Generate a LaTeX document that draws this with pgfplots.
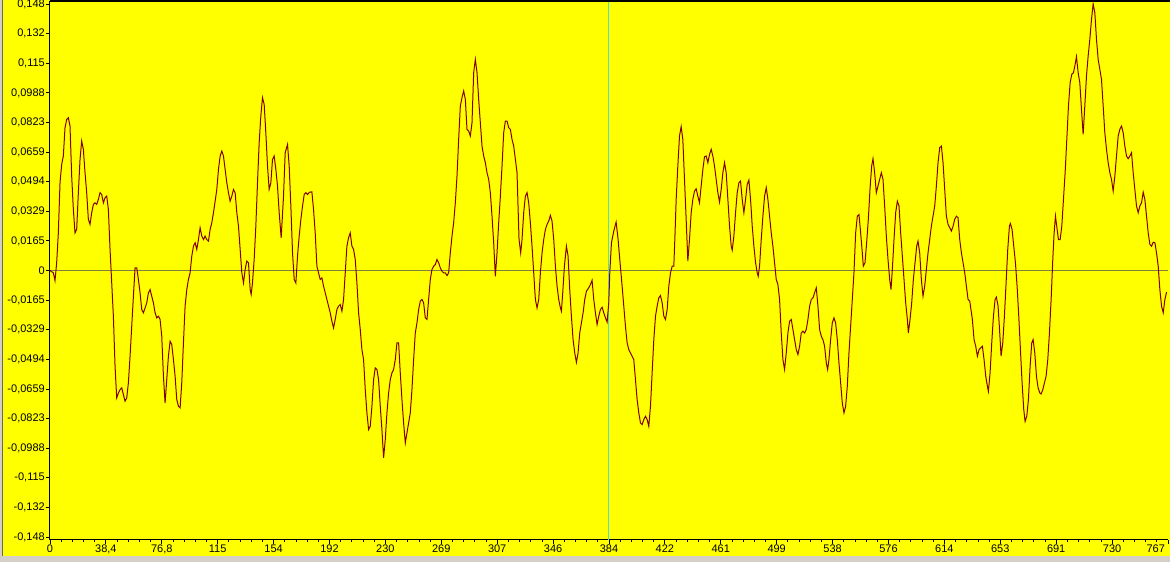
\documentclass[border=0pt]{standalone}
\usepackage{fontspec}
\setmainfont{Liberation Sans}
\usepackage{pgfplots}
\pgfplotsset{compat=1.18}
\definecolor{bgyellow}{RGB}{255,255,0}
\definecolor{curve}{RGB}{128,0,0}
\definecolor{zeroline}{RGB}{128,128,64}
\definecolor{cursor}{RGB}{80,220,210}
\definecolor{framegray}{RGB}{212,208,200}
\begin{document}
\begin{tikzpicture}[x=1pt,y=1pt]
\useasboundingbox (0,0) rectangle (1170,562);
\fill[bgyellow] (0,0) rectangle (1170,562);
\fill[framegray] (0,0) rectangle (2,562);
\fill[framegray] (0,0) rectangle (1170,6);
\draw[black!60, line width=1pt] (2.5,6) -- (2.5,562);
\begin{axis}[
  at={(50pt,22pt)}, anchor=south west,
  scale only axis, width=1118pt, height=539pt,
  xmin=0, xmax=768, ymin=-0.1497, ymax=0.1497,
  axis x line*=bottom, axis y line*=left,
  axis line style={black, line width=1pt, -},
  xtick={0,38.4,76.8,115.2,153.6,192,230.4,268.8,307.2,345.6,384,422.4,460.8,499.2,537.6,576,614.4,652.8,691.2,729.6,768},
  xticklabels={0,{38,4},{76,8},115,154,192,230,269,307,346,384,422,461,499,538,576,614,653,691,730,{\makebox[0pt][r]{767\hspace{3pt}}}},
  ytick={-0.148,-0.131556,-0.115111,-0.098667,-0.082222,-0.065778,-0.049333,-0.032889,-0.016444,0,0.016444,0.032889,0.049333,0.065778,0.082222,0.098667,0.115111,0.131556,0.148},
  yticklabels={{-0,148},{-0,132},{-0,115},{-0,0988},{-0,0823},{-0,0659},{-0,0494},{-0,0329},{-0,0165},0,{0,0165},{0,0329},{0,0494},{0,0659},{0,0823},{0,0988},{0,115},{0,132},{0,148}},
  tick align=outside,
  major tick length=4pt, minor tick length=2pt,
  minor x tick num=4, minor y tick num=7,
  tick style={black, line width=0.8pt},
  ticklabel style={font=\fontsize{11}{12}\selectfont, text=black},
  xticklabel style={inner sep=1pt},
  yticklabel style={inner sep=1pt},
  clip=false,
]
\draw[zeroline, line width=1pt] (axis cs:0,0) -- (axis cs:768,0);
\draw[cursor, line width=1pt] (axis cs:384,-0.1497) -- (axis cs:384,0.1497);
\draw[black, line width=1.2pt] (rel axis cs:0,1) -- (rel axis cs:1.002,1);
\addplot[curve, line width=1pt, no marks] table {
x y
0 0
2.29 -0.0013
3.44 -0.0056
4.58 0.0043
5.73 0.0209
6.88 0.0487
8.02 0.0589
9.17 0.0636
10.31 0.0793
11.46 0.0839
12.60 0.0849
13.75 0.0802
14.90 0.0524
16.04 0.0339
17.19 0.0209
18.33 0.0228
19.48 0.0432
20.63 0.0617
21.77 0.0719
22.92 0.0673
24.06 0.0543
25.21 0.0432
26.35 0.0284
27.50 0.0256
28.65 0.0321
29.79 0.0367
30.94 0.0376
32.08 0.0367
33.23 0.0395
34.38 0.0432
35.52 0.0422
36.67 0.0376
37.81 0.0404
38.96 0.0413
40.10 0.0339
41.25 0.0117
42.40 -0.0069
43.54 -0.0254
44.69 -0.0532
45.83 -0.0708
46.98 -0.0680
48.13 -0.0662
49.27 -0.0652
50.42 -0.0689
51.56 -0.0726
52.71 -0.0708
53.85 -0.0624
55.00 -0.0476
56.15 -0.0309
57.29 -0.0143
58.44 0.0015
59.58 0.0015
60.73 -0.0050
61.88 -0.0124
63.02 -0.0217
64.17 -0.0235
65.31 -0.0208
66.46 -0.0180
67.60 -0.0124
68.75 -0.0106
69.90 -0.0143
71.04 -0.0180
72.19 -0.0235
73.33 -0.0263
74.48 -0.0254
75.63 -0.0272
76.77 -0.0365
77.92 -0.0587
79.06 -0.0736
80.21 -0.0606
81.35 -0.0476
82.50 -0.0393
83.65 -0.0411
84.79 -0.0495
85.94 -0.0587
87.08 -0.0717
88.23 -0.0754
89.38 -0.0763
90.52 -0.0624
91.67 -0.0402
92.81 -0.0198
93.96 -0.0106
95.10 -0.0050
96.25 -0.0013
97.40 0.0080
98.54 0.0135
99.69 0.0154
100.83 0.0117
101.98 0.0172
103.13 0.0237
104.27 0.0191
105.42 0.0172
106.56 0.0191
107.71 0.0172
108.85 0.0163
110.00 0.0228
111.15 0.0265
112.29 0.0321
113.44 0.0385
114.58 0.0450
115.73 0.0561
116.88 0.0636
118.02 0.0663
119.17 0.0636
120.31 0.0561
121.46 0.0487
122.60 0.0432
123.75 0.0385
124.90 0.0413
126.04 0.0450
127.19 0.0432
128.33 0.0321
129.48 0.0246
130.63 0.0117
131.77 -0.0013
132.92 -0.0069
134.06 0.0006
135.21 0.0052
136.35 0.0043
137.50 -0.0106
138.19 -0.0133
139.10 -0.0069
140.25 0.0061
141.40 0.0246
142.54 0.0487
143.69 0.0710
144.83 0.0858
145.98 0.0960
147.13 0.0923
148.27 0.0765
149.42 0.0580
150.56 0.0450
151.71 0.0487
152.85 0.0617
154.00 0.0636
155.15 0.0561
156.29 0.0469
157.44 0.0321
158.81 0.0182
160.42 0.0413
161.56 0.0654
163.17 0.0700
164.32 0.0580
165.46 0.0358
166.61 0.0098
167.75 -0.0050
168.90 -0.0069
170.04 0.0080
171.19 0.0191
172.34 0.0284
173.48 0.0358
174.63 0.0422
175.77 0.0432
176.92 0.0422
178.29 0.0435
179.90 0.0437
181.04 0.0339
182.19 0.0209
183.34 0.0024
184.48 -0.0013
185.63 -0.0050
186.77 -0.0041
187.92 -0.0087
189.07 -0.0124
190.21 -0.0161
191.36 -0.0198
192.50 -0.0235
193.65 -0.0282
194.79 -0.0319
195.94 -0.0272
197.09 -0.0217
198.23 -0.0198
199.38 -0.0189
200.52 -0.0226
201.67 -0.0161
202.82 -0.0013
203.96 0.0135
205.11 0.0182
206.25 0.0209
207.40 0.0135
208.54 0.0117
209.69 0.0061
210.84 -0.0069
211.98 -0.0235
213.13 -0.0328
214.27 -0.0439
215.42 -0.0495
216.57 -0.0662
217.71 -0.0791
218.86 -0.0884
220.00 -0.0865
221.15 -0.0754
222.29 -0.0606
223.44 -0.0541
224.59 -0.0550
225.73 -0.0606
226.88 -0.0754
228.02 -0.0884
229.17 -0.1041
230.32 -0.0939
231.46 -0.0791
232.61 -0.0680
233.75 -0.0606
234.90 -0.0569
236.04 -0.0550
237.19 -0.0495
238.34 -0.0402
239.48 -0.0402
240.63 -0.0569
241.77 -0.0717
242.92 -0.0847
244.07 -0.0958
245.21 -0.0902
246.36 -0.0847
247.50 -0.0791
248.65 -0.0662
249.79 -0.0495
250.94 -0.0347
252.09 -0.0291
253.23 -0.0217
254.38 -0.0170
255.52 -0.0161
256.67 -0.0180
257.82 -0.0263
258.96 -0.0272
260.11 -0.0161
261.25 -0.0050
262.40 0.0006
263.54 0.0024
264.69 0.0033
265.84 0.0061
266.98 0.0043
268.13 0.0015
269.27 -0.0004
270.42 -0.0013
271.57 -0.0013
272.71 -0.0028
273.86 -0.0013
275.00 0.0098
276.15 0.0191
277.29 0.0265
278.44 0.0376
279.59 0.0524
280.73 0.0728
281.88 0.0914
283.02 0.0960
284.17 0.0997
285.32 0.0951
286.46 0.0784
287.61 0.0775
288.75 0.0747
289.90 0.0821
291.05 0.1099
292.19 0.1173
293.34 0.1099
294.48 0.0951
295.63 0.0821
296.77 0.0691
297.92 0.0636
299.07 0.0599
300.21 0.0543
301.36 0.0506
302.50 0.0432
303.65 0.0302
304.79 0.0154
305.94 -0.0032
307.09 0.0098
308.23 0.0265
309.38 0.0413
310.52 0.0580
311.67 0.0765
312.82 0.0830
313.96 0.0830
315.11 0.0793
316.25 0.0784
317.39 0.0728
318.54 0.0691
319.69 0.0617
320.83 0.0543
321.52 0.0358
322.21 0.0172
323.35 0.0098
324.27 0.0172
325.41 0.0321
326.56 0.0413
327.71 0.0432
328.85 0.0376
330.00 0.0265
331.14 0.0135
332.29 -0.0013
333.44 -0.0161
334.58 -0.0208
335.73 -0.0161
336.87 -0.0013
338.02 0.0098
339.16 0.0172
340.31 0.0228
341.46 0.0256
342.60 0.0274
343.75 0.0306
344.89 0.0274
346.04 0.0172
347.19 0.0024
348.33 -0.0087
349.48 -0.0161
350.62 -0.0208
351.31 -0.0226
352.23 -0.0124
353.37 0.0024
354.75 0.0135
355.89 0.0080
357.04 -0.0106
358.19 -0.0254
359.33 -0.0384
360.48 -0.0458
361.62 -0.0510
362.77 -0.0458
363.91 -0.0347
365.06 -0.0291
366.21 -0.0235
367.35 -0.0161
368.50 -0.0115
370.10 -0.0096
371.25 -0.0078
372.39 -0.0054
373.54 -0.0161
374.69 -0.0235
375.83 -0.0300
376.98 -0.0254
378.12 -0.0217
379.27 -0.0204
380.42 -0.0235
381.56 -0.0263
382.71 -0.0287
383.85 -0.0180
384.54 -0.0013
385.69 0.0154
387.29 0.0219
388.90 0.0269
390.27 0.0172
391.42 0.0061
393.02 -0.0087
394.17 -0.0198
395.31 -0.0309
396.46 -0.0402
397.60 -0.0439
398.75 -0.0458
399.90 -0.0476
401.04 -0.0495
402.19 -0.0606
403.33 -0.0717
404.48 -0.0791
405.62 -0.0847
406.77 -0.0856
407.92 -0.0828
409.06 -0.0810
410.21 -0.0828
411.35 -0.0865
412.50 -0.0754
413.64 -0.0569
414.79 -0.0384
415.94 -0.0254
417.08 -0.0198
418.23 -0.0152
419.37 -0.0139
420.52 -0.0180
421.67 -0.0254
422.81 -0.0272
423.96 -0.0217
425.10 -0.0087
426.25 -0.0013
427.40 0.0024
428.54 0.0024
429.23 0.0172
430.15 0.0395
431.29 0.0580
432.44 0.0747
433.58 0.0799
434.73 0.0728
435.87 0.0506
437.02 0.0284
438.17 0.0052
439.31 0.0172
440.46 0.0321
441.60 0.0395
442.75 0.0441
443.89 0.0454
445.04 0.0413
446.19 0.0376
447.33 0.0469
448.48 0.0561
449.62 0.0632
450.77 0.0636
451.92 0.0599
453.06 0.0645
454.21 0.0673
455.35 0.0636
456.50 0.0580
457.64 0.0506
458.79 0.0432
459.94 0.0380
461.08 0.0450
462.23 0.0543
463.37 0.0599
464.52 0.0543
465.67 0.0395
466.81 0.0246
467.96 0.0135
468.65 0.0113
469.79 0.0191
470.94 0.0321
472.08 0.0432
473.23 0.0487
474.37 0.0497
475.52 0.0395
476.67 0.0321
477.82 0.0395
478.96 0.0478
480.11 0.0502
481.25 0.0395
482.40 0.0246
483.54 0.0135
484.69 0.0043
485.84 -0.0013
486.52 -0.0032
487.44 0.0024
488.59 0.0172
489.73 0.0302
490.88 0.0413
492.02 0.0460
493.17 0.0395
494.31 0.0302
495.46 0.0209
496.61 0.0135
497.75 0.0043
498.90 -0.0050
500.04 -0.0078
501.19 -0.0161
502.34 -0.0347
503.48 -0.0495
504.63 -0.0550
505.77 -0.0458
506.92 -0.0347
508.07 -0.0282
509.21 -0.0272
510.36 -0.0328
511.50 -0.0384
512.65 -0.0439
513.79 -0.0467
514.94 -0.0421
516.09 -0.0347
517.23 -0.0337
518.38 -0.0347
519.52 -0.0328
520.67 -0.0272
521.82 -0.0198
522.96 -0.0161
524.11 -0.0152
525.25 -0.0124
526.40 -0.0096
527.54 -0.0198
528.69 -0.0328
529.84 -0.0365
530.98 -0.0384
532.13 -0.0421
533.27 -0.0513
534.19 -0.0550
535.11 -0.0495
536.25 -0.0384
537.40 -0.0291
538.54 -0.0263
539.69 -0.0291
540.84 -0.0384
541.98 -0.0513
543.13 -0.0624
544.27 -0.0736
545.42 -0.0791
546.57 -0.0754
547.71 -0.0643
548.86 -0.0458
550.00 -0.0309
551.15 -0.0161
552.29 -0.0013
553.44 0.0209
554.59 0.0302
555.73 0.0311
556.88 0.0209
558.02 0.0098
558.71 0.0024
559.86 0.0043
561.00 0.0154
562.15 0.0284
563.30 0.0450
564.44 0.0580
565.36 0.0621
566.50 0.0543
567.65 0.0432
568.79 0.0469
569.94 0.0506
571.09 0.0543
572.23 0.0506
573.38 0.0358
574.52 0.0191
575.67 0.0061
576.82 -0.0050
577.73 -0.0106
578.65 0.0006
579.79 0.0172
580.94 0.0321
582.09 0.0385
583.23 0.0358
584.38 0.0209
585.52 0.0080
586.67 -0.0050
587.82 -0.0180
588.96 -0.0272
589.65 -0.0347
590.80 -0.0272
591.94 -0.0180
593.09 -0.0050
594.23 0.0043
595.38 0.0135
596.29 0.0163
597.44 0.0098
598.59 -0.0050
599.73 -0.0143
600.88 -0.0087
602.02 0.0006
603.17 0.0098
604.32 0.0172
605.46 0.0246
606.61 0.0302
607.75 0.0358
608.90 0.0469
610.04 0.0599
611.19 0.0682
612.34 0.0691
613.48 0.0599
614.63 0.0450
615.77 0.0302
616.92 0.0256
618.07 0.0237
619.21 0.0219
620.36 0.0246
621.50 0.0284
622.65 0.0302
623.79 0.0293
624.94 0.0172
626.09 0.0098
627.23 0.0043
628.38 -0.0013
629.52 -0.0087
630.67 -0.0161
631.82 -0.0170
633.64 -0.0272
634.79 -0.0384
635.94 -0.0421
637.08 -0.0476
638.23 -0.0439
639.37 -0.0430
640.52 -0.0421
641.66 -0.0495
642.81 -0.0587
643.96 -0.0643
644.64 -0.0671
645.79 -0.0569
646.94 -0.0402
648.08 -0.0254
649.23 -0.0161
650.14 -0.0148
651.29 -0.0198
652.43 -0.0347
653.35 -0.0476
654.50 -0.0402
655.64 -0.0254
656.79 -0.0069
657.93 0.0117
659.08 0.0246
659.77 0.0261
660.91 0.0228
662.06 0.0135
663.21 0.0043
664.35 -0.0087
665.50 -0.0254
666.64 -0.0439
667.79 -0.0624
668.93 -0.0773
669.85 -0.0838
671.00 -0.0810
672.14 -0.0717
673.29 -0.0532
674.43 -0.0402
675.35 -0.0384
676.50 -0.0458
677.64 -0.0587
678.79 -0.0652
679.93 -0.0680
680.85 -0.0686
682.00 -0.0662
683.14 -0.0624
684.29 -0.0587
685.43 -0.0495
686.58 -0.0347
687.73 -0.0161
688.87 0.0061
689.79 0.0209
690.70 0.0302
691.85 0.0228
692.77 0.0172
693.91 0.0172
695.06 0.0246
696.20 0.0395
697.35 0.0543
698.50 0.0728
699.64 0.0914
700.79 0.1043
701.93 0.1090
703.08 0.1099
704.23 0.1145
705.14 0.1188
706.29 0.1099
707.43 0.1043
708.58 0.0895
709.73 0.0756
710.87 0.0914
712.02 0.1080
713.16 0.1191
714.31 0.1284
715.46 0.1395
716.60 0.1480
717.75 0.1432
718.89 0.1284
720.04 0.1173
721.18 0.1117
722.33 0.1062
723.48 0.0914
724.62 0.0765
725.77 0.0673
726.91 0.0599
728.06 0.0543
729.21 0.0506
730.35 0.0441
731.50 0.0524
732.64 0.0636
733.79 0.0747
734.93 0.0784
736.08 0.0802
737.23 0.0765
738.37 0.0691
739.52 0.0636
740.66 0.0621
741.81 0.0636
742.96 0.0654
744.10 0.0543
745.25 0.0450
746.39 0.0358
747.54 0.0321
748.68 0.0358
749.83 0.0376
750.98 0.0435
752.12 0.0395
753.27 0.0302
754.41 0.0209
755.56 0.0145
756.71 0.0135
757.85 0.0157
759.00 0.0154
760.14 0.0098
761.29 0.0024
762.43 -0.0106
763.58 -0.0198
764.73 -0.0235
765.87 -0.0161
767.02 -0.0120
};
\end{axis}
\end{tikzpicture}
\end{document}
